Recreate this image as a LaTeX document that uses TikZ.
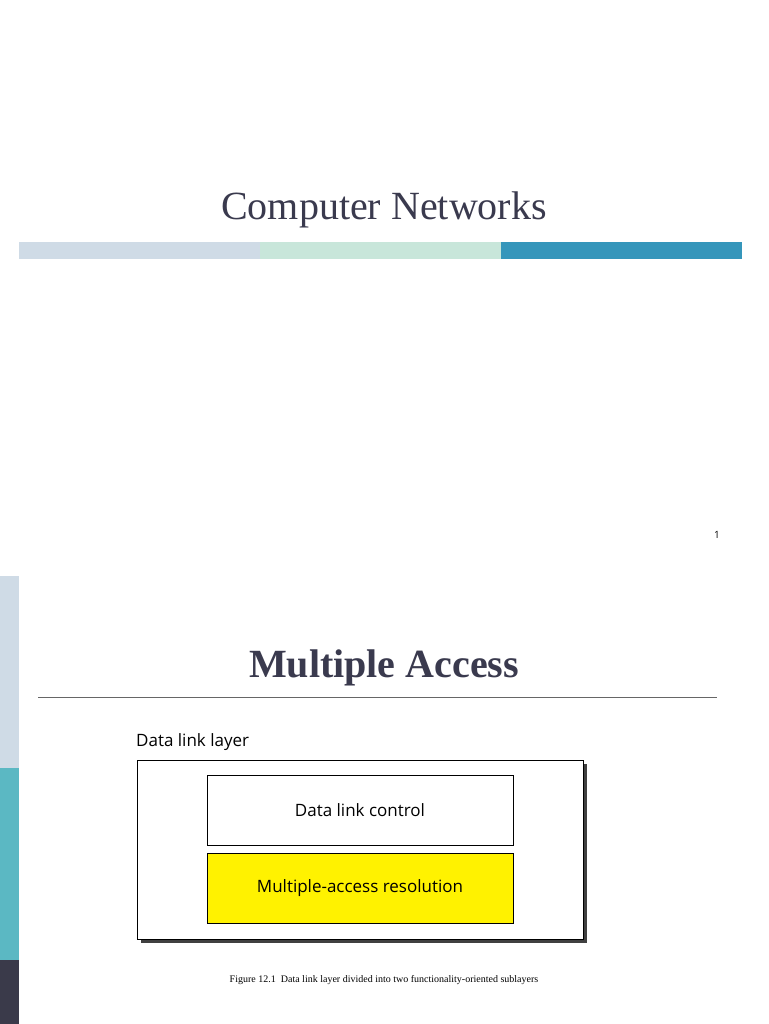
\documentclass[tikz,border=0pt]{standalone}
\usepackage{fontspec}
\setmainfont{Liberation Serif}
\setsansfont{Open Sans}
\definecolor{titlec}{HTML}{3A3A4E}
\definecolor{barA}{HTML}{CFDBE6}
\definecolor{barB}{HTML}{C8E6DA}
\definecolor{barC}{HTML}{3596BB}
\definecolor{sideB}{HTML}{5BB8C3}
\definecolor{sideC}{HTML}{3A3A4A}
\begin{document}
\begin{tikzpicture}[x=1pt,y=-1pt,
  boxstyle/.style={draw=black,line width=0.8pt,minimum width=306pt,minimum height=70pt,font=\sffamily\fontsize{17}{20}\selectfont,inner sep=0pt}]
\useasboundingbox (0,0) rectangle (768,1024);
\fill[white] (0,0) rectangle (768,1024);
\node[text=titlec,font=\fontsize{40}{44}\selectfont] (t1) at (384,210) {Computer Networks};
\fill[barA] (19,242) rectangle (260,259);
\fill[barB] (260,242) rectangle (501,259);
\fill[barC] (501,242) rectangle (742,259);
\node[font=\sffamily\fontsize{10}{12}\selectfont] (pg) at (717,535) {1};
\fill[barA] (0,576) rectangle (19,768);
\fill[sideB] (0,768) rectangle (19,960);
\fill[sideC] (0,960) rectangle (19,1024);
\node[text=titlec,font=\bfseries\fontsize{40}{44}\selectfont] (t2) at (384,668) {Multiple Access};
\draw[gray!80!black,line width=1pt] (38,697) -- (717,697);
\node[anchor=west,font=\sffamily\fontsize{17}{20}\selectfont,inner sep=0pt] (dll) at (136,742) {Data link layer};
\fill[black!75] (141,764) rectangle (587,943);
\draw[fill=white,line width=0.8pt] (137,760) rectangle (583,939);
\node[boxstyle,fill=white] (dlc) at (360,810) {Data link control};
\node[boxstyle,fill=yellow] (mar) at (360,888) {Multiple-access resolution};
\node[font=\fontsize{10}{12}\selectfont] (cap) at (384,980) {Figure 12.1\enspace Data link layer divided into two functionality-oriented sublayers};
\end{tikzpicture}
\end{document}
